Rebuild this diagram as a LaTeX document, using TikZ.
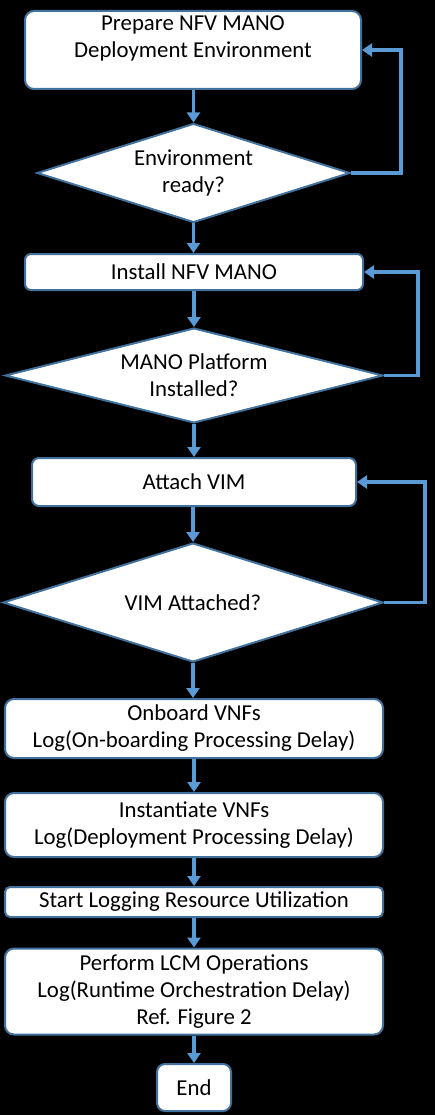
\documentclass[tikz,border=0pt]{standalone}
\usepackage{fontspec}
\setmainfont{Carlito}
\usetikzlibrary{shapes.geometric,arrows.meta}
\definecolor{arrowblue}{HTML}{5B9BD5}
\definecolor{edgeblue}{HTML}{41719C}
\tikzset{
  procbox/.style={draw=edgeblue, line width=2pt, fill=white, rounded corners=9pt,
    align=center, inner sep=0pt, font=\fontsize{22.8}{27}\selectfont},
  decbox/.style={draw=edgeblue, line width=2pt, fill=white, diamond, align=center,
    inner sep=0pt, font=\fontsize{22.8}{27}\selectfont},
  flow/.style={draw=arrowblue, line width=3.2pt, -{Triangle[width=13pt,length=10pt]}},
}
\begin{document}
\begin{tikzpicture}[x=1pt,y=-1pt]
\fill[black] (0,0) rectangle (435,1115);
\useasboundingbox (0,0) rectangle (435,1115);
\node[procbox, minimum width=336pt, minimum height=78pt] (b1) at (193,50) {Prepare NFV MANO\\Deployment Environment\\\mbox{}};
\node[decbox, aspect=3.162, minimum width=313pt, minimum height=99pt] (d1) at (193.5,173) {Environment\\ready?};
\node[procbox, rounded corners=6pt, minimum width=338pt, minimum height=36pt] (b2) at (194,272) {Install NFV MANO};
\node[decbox, aspect=3.979, minimum width=378pt, minimum height=95pt] (d2) at (194,375.5) {MANO Platform\\Installed?};
\node[procbox, rounded corners=7pt, minimum width=324pt, minimum height=48pt] (b3) at (194,482) {Attach VIM};
\node[decbox, aspect=3.193, minimum width=380pt, minimum height=119pt] (d3) at (193,602.5) {VIM Attached?};
\node[procbox, minimum width=378pt, minimum height=59pt] (b4) at (194,728.5) {Onboard VNFs\\Log(On-boarding Processing Delay)};
\node[procbox, minimum width=378pt, minimum height=64pt] (b5) at (194,825) {Instantiate VNFs\\Log(Deployment Processing Delay)};
\node[procbox, rounded corners=5pt, minimum width=378pt, minimum height=30pt] (b6) at (194,902) {Start Logging Resource Utilization};
\node[procbox, minimum width=378pt, minimum height=86pt] (b7) at (194,991.5) {Perform LCM Operations\\Log(Runtime Orchestration Delay)\\Ref. Figure 2};
\node[procbox, rounded corners=8pt, minimum width=74pt, minimum height=47pt] (b8) at (194,1087.5) {End};
\draw[flow] (b1.south -| d1.north) -- (d1.north);
\draw[flow] (d1.south) -- (d1.south |- b2.north);
\draw[flow] (d2.north |- b2.south) -- (d2.north);
\draw[flow] (d2.south) -- (d2.south |- b3.north);
\draw[flow] (d3.north |- b3.south) -- (d3.north);
\draw[flow] (d3.south) -- (d3.south |- b4.north);
\draw[flow] (b4.south) -- (b5.north);
\draw[flow] (b5.south) -- (b6.north);
\draw[flow] (b6.south) -- (b7.north);
\draw[flow] (b7.south) -- (b8.north);
\draw[flow] (d1.east) -- ++(50,0) |- (b1.east);
\draw[flow] (d2.east) -- ++(34,0) |- (b2.east);
\draw[flow] (d3.east) -- ++(41,0) |- (b3.east);
\end{tikzpicture}
\end{document}
